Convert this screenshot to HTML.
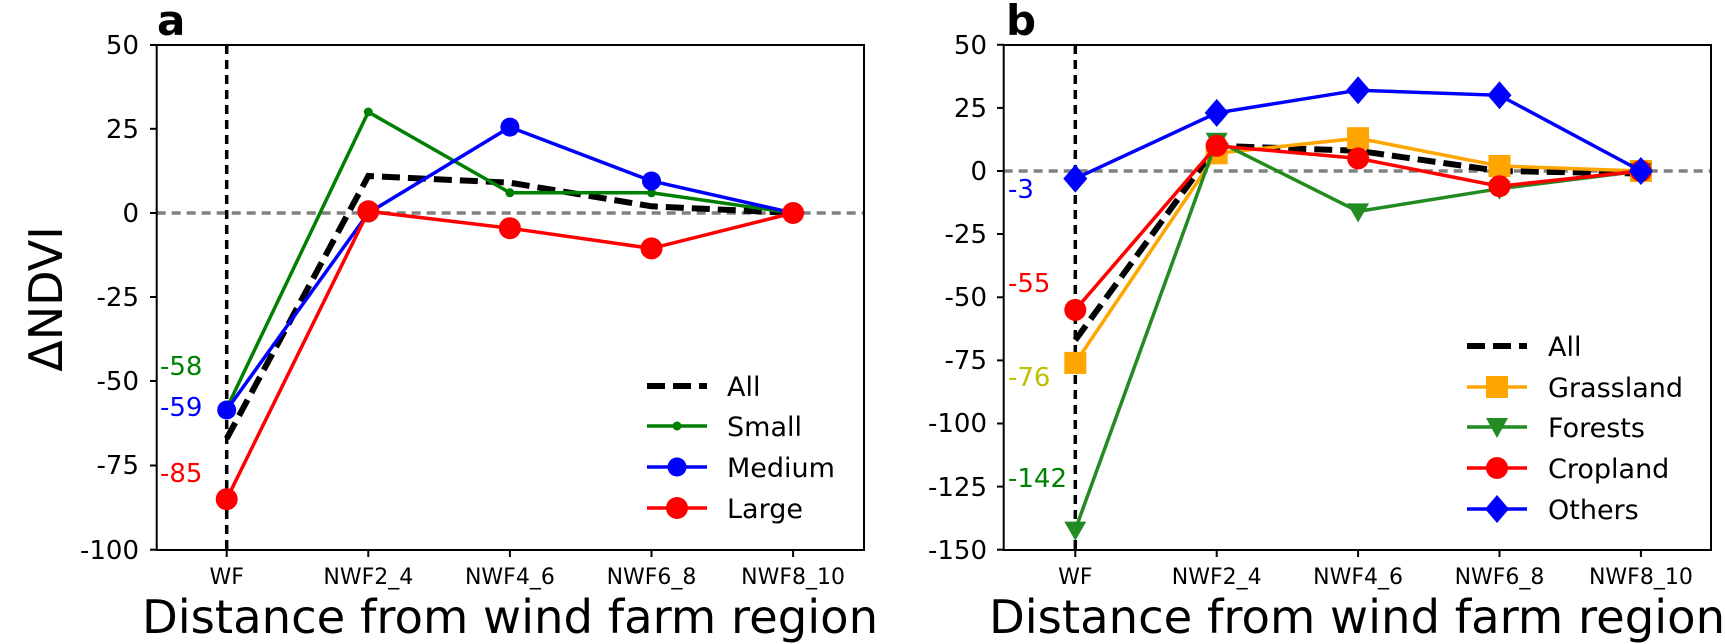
<!DOCTYPE html>
<html><head><meta charset="utf-8"><style>
html,body{margin:0;padding:0;background:#fff;}
svg{display:block;font-family:"DejaVu Sans","Liberation Sans",sans-serif;}
</style></head><body>
<svg width="1725" height="644" viewBox="0 0 1725 644" xmlns="http://www.w3.org/2000/svg">
<!-- Panel a -->
<g>
<text x="157" y="35" font-size="42" font-weight="bold">a</text>
<line x1="156.7" y1="213" x2="864" y2="213" stroke="#808080" stroke-width="3.5" stroke-dasharray="9,6"/>
<line x1="226.7" y1="45" x2="226.7" y2="550" stroke="#000" stroke-width="3.5" stroke-dasharray="9,6"/>
<polyline points="226.7,438.6 368.3,176 509.9,182.7 651.5,206.3 793.1,213" fill="none" stroke="#000" stroke-width="6" stroke-dasharray="18,8"/>
<polyline points="226.7,408.3 368.3,112 509.9,192.8 651.5,192.8 793.1,213" fill="none" stroke="#008000" stroke-width="3.5"/>
<g fill="#008000"><circle cx="226.7" cy="408.3" r="4.5"/><circle cx="368.3" cy="112" r="4.5"/><circle cx="509.9" cy="192.8" r="4.5"/><circle cx="651.5" cy="192.8" r="4.5"/><circle cx="793.1" cy="213" r="4.5"/></g>
<polyline points="226.7,410 368.3,213 509.9,127.1 651.5,181 793.1,213" fill="none" stroke="#0000ff" stroke-width="3.5"/>
<g fill="#0000ff"><circle cx="226.7" cy="410" r="9.5"/><circle cx="368.3" cy="213" r="9.5"/><circle cx="509.9" cy="127.1" r="9.5"/><circle cx="651.5" cy="181" r="9.5"/><circle cx="793.1" cy="213" r="9.5"/></g>
<polyline points="226.7,499.2 368.3,211.3 509.9,228.2 651.5,248.4 793.1,213" fill="none" stroke="#ff0000" stroke-width="3.5"/>
<g fill="#ff0000"><circle cx="226.7" cy="499.2" r="11"/><circle cx="368.3" cy="211.3" r="11"/><circle cx="509.9" cy="228.2" r="11"/><circle cx="651.5" cy="248.4" r="11"/><circle cx="793.1" cy="213" r="11"/></g>
<text x="160" y="375" font-size="26" fill="#008000">-58</text>
<text x="160" y="416" font-size="26" fill="#0000ff">-59</text>
<text x="160" y="482" font-size="26" fill="#ff0000">-85</text>
<rect x="156.7" y="45" width="707.3" height="505" fill="none" stroke="#000" stroke-width="2"/>
<g stroke="#000" stroke-width="2">
<line x1="150" y1="45" x2="156.7" y2="45"/><line x1="150" y1="128.8" x2="156.7" y2="128.8"/><line x1="150" y1="213" x2="156.7" y2="213"/><line x1="150" y1="297" x2="156.7" y2="297"/><line x1="150" y1="381" x2="156.7" y2="381"/><line x1="150" y1="465.5" x2="156.7" y2="465.5"/><line x1="150" y1="549.7" x2="156.7" y2="549.7"/>
<line x1="226.7" y1="550" x2="226.7" y2="557"/><line x1="368.3" y1="550" x2="368.3" y2="557"/><line x1="509.9" y1="550" x2="509.9" y2="557"/><line x1="651.5" y1="550" x2="651.5" y2="557"/><line x1="793.1" y1="550" x2="793.1" y2="557"/>
</g>
<g font-size="26" text-anchor="end">
<text x="139" y="54">50</text><text x="139" y="138">25</text><text x="139" y="222">0</text><text x="139" y="306">-25</text><text x="139" y="390">-50</text><text x="139" y="474">-75</text><text x="139" y="559">-100</text>
</g>
<g font-size="22" text-anchor="middle">
<text x="226.7" y="584">WF</text><text x="368.3" y="584">NWF2_4</text><text x="509.9" y="584">NWF4_6</text><text x="651.5" y="584">NWF6_8</text><text x="793.1" y="584">NWF8_10</text>
</g>
<text x="510" y="633" font-size="46.5" text-anchor="middle">Distance from wind farm region</text>
<text transform="translate(62,299) rotate(-90)" font-size="46" text-anchor="middle">ΔNDVI</text>
<!-- legend a -->
<line x1="647" y1="386" x2="707" y2="386" stroke="#000" stroke-width="6" stroke-dasharray="18,8"/>
<line x1="647" y1="426" x2="707" y2="426" stroke="#008000" stroke-width="3.5"/><circle cx="677" cy="426" r="4.5" fill="#008000"/>
<line x1="647" y1="467" x2="707" y2="467" stroke="#0000ff" stroke-width="3.5"/><circle cx="677" cy="467" r="9.5" fill="#0000ff"/>
<line x1="647" y1="508" x2="707" y2="508" stroke="#ff0000" stroke-width="3.5"/><circle cx="677" cy="508" r="11" fill="#ff0000"/>
<g font-size="27"><text x="727" y="396">All</text><text x="727" y="436">Small</text><text x="727" y="477">Medium</text><text x="727" y="518">Large</text></g>
</g>
<!-- Panel b -->
<g>
<text x="1006" y="35" font-size="42" font-weight="bold">b</text>
<line x1="1003.7" y1="171" x2="1711" y2="171" stroke="#808080" stroke-width="3.5" stroke-dasharray="9,6"/>
<line x1="1075.3" y1="45" x2="1075.3" y2="550" stroke="#000" stroke-width="3.5" stroke-dasharray="9,6"/>
<polyline points="1075.3,340.2 1216.7,145.8 1358.1,150.8 1499.5,171 1640.9,173.5" fill="none" stroke="#000" stroke-width="6" stroke-dasharray="18,8"/>
<polyline points="1075.3,362.9 1216.7,153.3 1358.1,138.2 1499.5,166 1640.9,171" fill="none" stroke="#ffa500" stroke-width="3.5"/>
<g fill="#ffa500"><rect x="1064.3" y="351.9" width="22" height="22"/><rect x="1205.7" y="142.3" width="22" height="22"/><rect x="1347.1" y="127.2" width="22" height="22"/><rect x="1488.5" y="155" width="22" height="22"/><rect x="1629.9" y="160" width="22" height="22"/></g>
<polyline points="1075.3,529.6 1216.7,140.7 1358.1,211.4 1499.5,188.7 1640.9,171" fill="none" stroke="#228b22" stroke-width="3.5"/>
<g fill="#228b22">
<polygon points="1064.3,521.6 1086.3,521.6 1075.3,540.6"/><polygon points="1205.7,132.7 1227.7,132.7 1216.7,151.7"/><polygon points="1347.1,203.4 1369.1,203.4 1358.1,222.4"/><polygon points="1488.5,180.7 1510.5,180.7 1499.5,199.7"/><polygon points="1629.9,163 1651.9,163 1640.9,182"/>
</g>
<polyline points="1075.3,309.9 1216.7,145.8 1358.1,158.4 1499.5,186.2 1640.9,171" fill="none" stroke="#ff0000" stroke-width="3.5"/>
<g fill="#ff0000"><circle cx="1075.3" cy="309.9" r="11"/><circle cx="1216.7" cy="145.8" r="11"/><circle cx="1358.1" cy="158.4" r="11"/><circle cx="1499.5" cy="186.2" r="11"/><circle cx="1640.9" cy="171" r="11"/></g>
<polyline points="1075.3,178.6 1216.7,112.9 1358.1,90.2 1499.5,95.3 1640.9,171" fill="none" stroke="#0000ff" stroke-width="3.5"/>
<g fill="#0000ff">
<polygon points="1075.3,164.6 1087.3,178.6 1075.3,192.6 1063.3,178.6"/><polygon points="1216.7,98.9 1228.7,112.9 1216.7,126.9 1204.7,112.9"/><polygon points="1358.1,76.2 1370.1,90.2 1358.1,104.2 1346.1,90.2"/><polygon points="1499.5,81.3 1511.5,95.3 1499.5,109.3 1487.5,95.3"/><polygon points="1640.9,157 1652.9,171 1640.9,185 1628.9,171"/>
</g>
<text x="1008" y="198" font-size="26" fill="#0000ff">-3</text>
<text x="1008" y="292" font-size="26" fill="#ff0000">-55</text>
<text x="1008" y="386" font-size="26" fill="#bfbf00">-76</text>
<text x="1008" y="487" font-size="26" fill="#008000">-142</text>
<rect x="1003.7" y="45" width="707.3" height="505" fill="none" stroke="#000" stroke-width="2"/>
<g stroke="#000" stroke-width="2">
<line x1="997" y1="44.75" x2="1003.7" y2="44.75"/><line x1="997" y1="107.9" x2="1003.7" y2="107.9"/><line x1="997" y1="171" x2="1003.7" y2="171"/><line x1="997" y1="234" x2="1003.7" y2="234"/><line x1="997" y1="297.3" x2="1003.7" y2="297.3"/><line x1="997" y1="360.4" x2="1003.7" y2="360.4"/><line x1="997" y1="423.5" x2="1003.7" y2="423.5"/><line x1="997" y1="486.6" x2="1003.7" y2="486.6"/><line x1="997" y1="549.7" x2="1003.7" y2="549.7"/>
<line x1="1075.3" y1="550" x2="1075.3" y2="557"/><line x1="1216.7" y1="550" x2="1216.7" y2="557"/><line x1="1358.1" y1="550" x2="1358.1" y2="557"/><line x1="1499.5" y1="550" x2="1499.5" y2="557"/><line x1="1640.9" y1="550" x2="1640.9" y2="557"/>
</g>
<g font-size="26" text-anchor="end">
<text x="987" y="54">50</text><text x="987" y="117">25</text><text x="987" y="180">0</text><text x="987" y="243">-25</text><text x="987" y="306">-50</text><text x="987" y="369">-75</text><text x="987" y="432">-100</text><text x="987" y="496">-125</text><text x="987" y="559">-150</text>
</g>
<g font-size="22" text-anchor="middle">
<text x="1075.3" y="584">WF</text><text x="1216.7" y="584">NWF2_4</text><text x="1358.1" y="584">NWF4_6</text><text x="1499.5" y="584">NWF6_8</text><text x="1640.9" y="584">NWF8_10</text>
</g>
<text x="1357" y="633" font-size="46.5" text-anchor="middle">Distance from wind farm region</text>
<!-- legend b -->
<line x1="1467" y1="346" x2="1527" y2="346" stroke="#000" stroke-width="6" stroke-dasharray="18,8"/>
<line x1="1467" y1="387" x2="1527" y2="387" stroke="#ffa500" stroke-width="3.5"/><rect x="1486" y="376" width="22" height="22" fill="#ffa500"/>
<line x1="1467" y1="427" x2="1527" y2="427" stroke="#228b22" stroke-width="3.5"/><polygon points="1486,418 1508,418 1497,438" fill="#228b22"/>
<line x1="1467" y1="468" x2="1527" y2="468" stroke="#ff0000" stroke-width="3.5"/><circle cx="1497" cy="468" r="11" fill="#ff0000"/>
<line x1="1467" y1="509" x2="1527" y2="509" stroke="#0000ff" stroke-width="3.5"/><polygon points="1497,495 1509,509 1497,523 1485,509" fill="#0000ff"/>
<g font-size="27"><text x="1548" y="356">All</text><text x="1548" y="397">Grassland</text><text x="1548" y="437">Forests</text><text x="1548" y="478">Cropland</text><text x="1548" y="519">Others</text></g>
</g>
</svg>
</body></html>
